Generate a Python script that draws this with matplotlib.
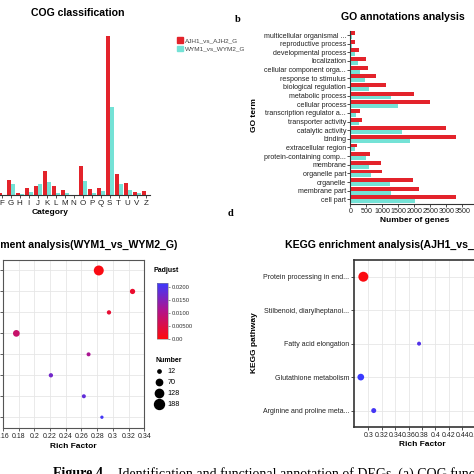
import numpy as np
import matplotlib
matplotlib.use('Agg')
import matplotlib.pyplot as plt
from matplotlib.colors import LinearSegmentedColormap, Normalize
from matplotlib.lines import Line2D
from matplotlib.patches import Patch
from matplotlib.cm import ScalarMappable

plt.rcParams['font.family'] = ['Liberation Sans', 'DejaVu Sans']

# ---------------- data ----------------
cog_categories = ['F', 'G', 'H', 'I', 'J', 'K', 'L', 'M', 'N', 'O', 'P', 'Q', 'S', 'T', 'U', 'V', 'Z']
cog_ajh = [12, 73, 12, 35, 45, 122, 43, 25, 0, 145, 28, 33, 797, 107, 58, 13, 22]
cog_wym = [0, 53, 4, 17, 53, 65, 10, 12, 0, 68, 10, 18, 440, 55, 27, 8, 0]
series_names = ['AJH1_vs_AJH2_G', 'WYM1_vs_WYM2_G']

go_terms = ['multicellular organismal ...', 'reproductive process', 'developmental process',
            'localization', 'cellular component orga...', 'response to stimulus',
            'biological regulation', 'metabolic process', 'cellular process',
            'transcription regulator a...', 'transporter activity', 'catalytic activity',
            'binding', 'extracellular region', 'protein-containing comp...', 'membrane',
            'organelle part', 'organelle', 'membrane part', 'cell part']
go_ajh = [156, 156, 270, 478, 541, 790, 1113, 1987, 2477, 301, 374, 2995, 3307, 198, 614, 947, 978, 1945, 2143, 3307]
go_wym = [50, 50, 135, 240, 290, 447, 572, 1258, 1477, 166, 260, 1623, 1852, 156, 478, 582, 655, 1248, 1260, 2007]
go_ticks = [0, 500, 1000, 1500, 2000, 2500, 3000, 3500]

kegg_c_rich = [0.282, 0.325, 0.295, 0.177, 0.269, 0.221, 0.263, 0.286]
kegg_c_padj = [0.0008, 0.003, 0.0035, 0.008, 0.0115, 0.0165, 0.018, 0.0205]
kegg_c_number = [188, 46, 27, 80, 22, 27, 22, 12]
kegg_c_ticks = [0.16, 0.18, 0.2, 0.22, 0.24, 0.26, 0.28, 0.3, 0.32, 0.34]
padj_ticks = [0.0, 0.005, 0.01, 0.015, 0.02]
padj_labels = ['0.00', '0.00500', '0.0100', '0.0150', '0.0200']
number_legend = [12, 70, 128, 188]

kegg_d_terms = ['Protein processing in end...', 'Stilbenoid, diarylheptanoi...',
                'Fatty acid elongation', 'Glutathione metabolism', 'Arginine and proline meta...']
kegg_d_rich = [0.2925, np.nan, 0.3757, 0.2887, 0.308]
kegg_d_padj = [0.001, np.nan, 0.036, 0.040, 0.038]
kegg_d_number = [188, np.nan, 22, 80, 40]
kegg_d_ticks = [0.30, 0.32, 0.34, 0.36, 0.38, 0.40, 0.42, 0.44, 0.46, 0.48]

RED = '#e3232b'
TEAL = '#74e2d6'
TXT = '#222222'

W = H = 474
fig = plt.figure(figsize=(4.74, 4.74), dpi=100)


def box(l, t, r, b):
    return [l / W, 1 - b / H, (r - l) / W, (b - t) / H]


def fx(x):
    return x / W


def fy(y):
    return 1 - y / H


def size_of(n):
    return (0.5 * np.asarray(n, dtype=float) + 5) * 0.5184


def fmt(v):
    s = ('%.2f' % v).rstrip('0')
    return s


cmap = LinearSegmentedColormap.from_list('padj', ['#ff0a0a', '#b3128a', '#3a3aff'])

# ---------------- panel a: COG ----------------
ax_a = fig.add_axes(box(-2.8, 35, 150.2, 195))
xa = np.arange(len(cog_categories))
ax_a.bar(xa - 0.45, cog_ajh, width=0.45, align='edge', color=RED, label=series_names[0])
ax_a.bar(xa, cog_wym, width=0.45, align='edge', color=TEAL, label=series_names[1])
ax_a.set_xlim(-0.5, len(cog_categories) - 0.5)
ax_a.set_ylim(0, 800)
for s in ['left', 'right', 'top']:
    ax_a.spines[s].set_visible(False)
ax_a.spines['bottom'].set_color('#333333')
ax_a.spines['bottom'].set_linewidth(0.8)
ax_a.set_yticks([])
ax_a.set_xticks(xa)
ax_a.set_xticklabels(cog_categories)
ax_a.tick_params(axis='x', length=2, width=0.6, pad=1.5, labelsize=5.8, labelcolor=TXT, color='#333333')
fig.text(fx(78), fy(12.7), 'COG classification', ha='center', va='center', fontsize=7.6, fontweight='bold')
fig.text(fx(50), fy(213), 'Category', ha='center', va='center', fontsize=6, fontweight='bold')
fig.legend(handles=[Patch(color=RED), Patch(color=TEAL)], labels=series_names,
           loc='upper left', bbox_to_anchor=(fx(173), fy(33)), frameon=False, fontsize=4.6,
           handlelength=0.9, handleheight=0.9, handletextpad=0.3, labelspacing=0.35,
           labelcolor='#444444', borderpad=0.2)

fig.text(fx(238), fy(20), 'b', ha='center', va='center', fontsize=7.5, fontweight='bold', family='Liberation Serif')
fig.text(fx(230), fy(214), 'd', ha='center', va='center', fontsize=7.5, fontweight='bold', family='Liberation Serif')

# ---------------- panel b: GO ----------------
ax_b = fig.add_axes(box(350.3, 30.7, 474, 203.7))
yb = np.arange(len(go_terms))
ax_b.barh(yb - 0.45, go_ajh, height=0.45, align='edge', color=RED)
ax_b.barh(yb, go_wym, height=0.45, align='edge', color=TEAL)
ax_b.set_ylim(len(go_terms) - 0.5, -0.5)
ax_b.set_xlim(0, (474 - 350.3) / 0.03205)
ax_b.set_yticks(yb)
ax_b.set_yticklabels(go_terms)
ax_b.set_xticks(go_ticks)
ax_b.set_xticklabels([str(t) for t in go_ticks])
for s in ['right', 'top']:
    ax_b.spines[s].set_visible(False)
for s in ['left', 'bottom']:
    ax_b.spines[s].set_color('#333333')
    ax_b.spines[s].set_linewidth(0.8)
ax_b.tick_params(axis='both', length=2, width=0.6, pad=1, labelsize=5.1, labelcolor=TXT, color='#333333')
fig.text(fx(403), fy(17), 'GO annotations analysis', ha='center', va='center', fontsize=7.6, fontweight='bold')
fig.text(fx(415), fy(221), 'Number of genes', ha='center', va='center', fontsize=6, fontweight='bold')
fig.text(fx(254.3), fy(115), 'GO term', ha='center', va='center', rotation=90, fontsize=6, fontweight='bold')

# ---------------- panel c: KEGG WYM ----------------
ax_c = fig.add_axes(box(3, 260, 144.3, 427.7))
norm_c = Normalize(0, 0.0215)
yc = np.arange(len(kegg_c_rich))
ax_c.scatter(kegg_c_rich, yc, s=size_of(kegg_c_number), c=kegg_c_padj, cmap=cmap, norm=norm_c,
             edgecolors='none', zorder=3)
ax_c.set_xlim(0.16, 0.34)
ax_c.set_ylim(len(kegg_c_rich) - 0.5, -0.5)
ax_c.set_xticks(kegg_c_ticks)
ax_c.set_xticklabels([fmt(t) for t in kegg_c_ticks])
ax_c.set_yticks(yc)
ax_c.set_yticklabels([''] * len(yc))
ax_c.grid(True, color='#e6e6e6', linewidth=0.6)
ax_c.set_axisbelow(True)
for s in ax_c.spines.values():
    s.set_color('#555555')
    s.set_linewidth(0.8)
ax_c.tick_params(axis='both', length=2.5, width=0.6, pad=1, labelsize=5, labelcolor=TXT, color='#444444')
fig.text(fx(177), fy(245), 'KEGG enrichment analysis(WYM1_vs_WYM2_G)', ha='right', va='center',
         fontsize=7.6, fontweight='bold')
fig.text(fx(73), fy(446), 'Rich Factor', ha='center', va='center', fontsize=6, fontweight='bold')

cax = fig.add_axes(box(156.7, 282.7, 168.3, 339.3))
cb = fig.colorbar(ScalarMappable(norm=norm_c, cmap=cmap), cax=cax)
cb.set_ticks(padj_ticks)
cb.set_ticklabels(padj_labels)
cb.outline.set_linewidth(0.4)
cb.outline.set_edgecolor('#888888')
cax.tick_params(length=1.5, width=0.5, pad=1, labelsize=4.2, labelcolor='#333333', color='#666666')
fig.text(fx(154), fy(270), 'Padjust', ha='left', va='center', fontsize=5, fontweight='bold')

handles = [Line2D([], [], marker='o', ls='', color='black', markersize=float(np.sqrt(size_of(n))))
           for n in number_legend]
leg = fig.legend(handles=handles, labels=[str(n) for n in number_legend], loc='upper left',
                 bbox_to_anchor=(fx(150), fy(352)), frameon=False, fontsize=5.2,
                 title='Number', title_fontproperties={'weight': 'bold', 'size': 5},
                 alignment='left', handletextpad=0.5, labelspacing=0.55, borderpad=0.2,
                 handlelength=1.2)

# ---------------- panel d: KEGG AJH ----------------
ax_d = fig.add_axes(box(354.3, 260, 500, 427.3))
norm_d = Normalize(0, 0.04)
yd = np.arange(len(kegg_d_terms))
ax_d.scatter(kegg_d_rich, yd, s=size_of(kegg_d_number), c=kegg_d_padj, cmap=cmap, norm=norm_d,
             edgecolors='none', zorder=3)
ax_d.set_xlim(0.279, 0.4966)
ax_d.set_ylim(len(kegg_d_terms) - 0.5, -0.5)
ax_d.set_xticks(kegg_d_ticks)
ax_d.set_xticklabels([fmt(t) for t in kegg_d_ticks])
ax_d.set_yticks(yd)
ax_d.set_yticklabels(kegg_d_terms)
ax_d.grid(True, color='#e6e6e6', linewidth=0.6)
ax_d.set_axisbelow(True)
for s in ax_d.spines.values():
    s.set_color('#333333')
    s.set_linewidth(1.2)
ax_d.tick_params(axis='both', length=2.5, width=0.6, pad=1, labelsize=5, labelcolor=TXT, color='#333333')
fig.text(fx(285.3), fy(245), 'KEGG enrichment analysis(AJH1_vs_AJH2_G)', ha='left', va='center',
         fontsize=7.6, fontweight='bold')
fig.text(fx(422), fy(445), 'Rich Factor', ha='center', va='center', fontsize=6, fontweight='bold')
fig.text(fx(254.3), fy(343), 'KEGG pathway', ha='center', va='center', rotation=90, fontsize=6, fontweight='bold')

# ---------------- caption ----------------
fig.text(fx(53), fy(467), 'Figure 4.', ha='left', va='top', fontsize=10, fontweight='bold',
         family='Liberation Serif')
fig.text(fx(118), fy(467), 'Identification and functional annotation of DEGs. (a) COG functional classification',
         ha='left', va='top', fontsize=10, family='Liberation Serif')

fig.savefig('out.png', dpi=100)
